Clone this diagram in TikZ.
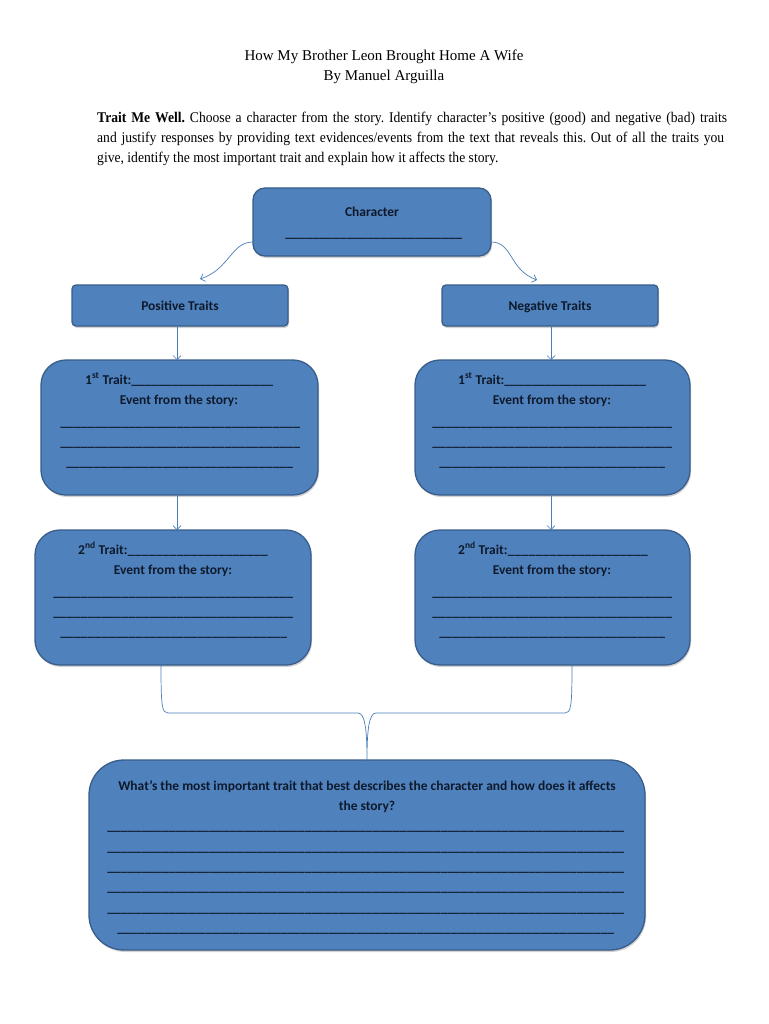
\documentclass[tikz,border=0pt]{standalone}
\usepackage{fontspec}
\setmainfont{Liberation Serif}
\newfontfamily\parafont{Liberation Serif}[FakeStretch=0.92]
\newfontfamily\boxfont{Carlito}
\usetikzlibrary{arrows.meta,shadows,calc}
\definecolor{boxblue}{HTML}{4F81BD}
\definecolor{boxedge}{HTML}{385D8A}
\definecolor{linkblue}{HTML}{4A7EBB}
\definecolor{ink}{HTML}{0E1A2B}
\newcommand\fillline[2]{\hbox to #1{#2\xleaders\hbox{\_}\hfill}}
\begin{document}
\frenchspacing
\begin{tikzpicture}[x=1pt,y=-1pt,
  box/.style={draw=boxedge, line width=1.3pt, fill=boxblue,
    drop shadow={shadow xshift=1pt,shadow yshift=-2pt,opacity=0.35},
    inner sep=0pt, outer sep=0pt},
  btxt/.style={font=\boxfont\bfseries\fontsize{13.5}{16}\selectfont, text=ink, inner sep=0pt},
  htxt/.style={font=\fontsize{15}{18}\selectfont, inner sep=0pt},
  ptxt/.style={font=\parafont\fontsize{14.8}{18}\selectfont, inner sep=0pt},
  conn/.style={draw=linkblue, line width=0.7pt},
  arr/.style={conn, -{Straight Barb[length=4pt,width=8pt]}}
]
\useasboundingbox[fill=white] (0,0) rectangle (768,1024);

% header
\node[htxt, anchor=base] (title) at (384,61) {How My Brother Leon Brought Home A Wife};
\node[htxt, anchor=base] (author) at (384,81) {By Manuel Arguilla};
\node[ptxt, anchor=base west] (p1) at (97,123) {\hbox to 630pt{\textbf{Trait Me Well.} Choose a character from the story. Identify character’s positive (good) and negative (bad) traits}};
\node[ptxt, anchor=base west] (p2) at (97,143) {\hbox to 627pt{and justify responses by providing text evidences/events from the text that reveals this. Out of all the traits you}};
\node[ptxt, anchor=base west] (p3) at (97,163) {give, identify the most important trait and explain how it affects the story.};

% boxes
\node[box, rounded corners=12pt, minimum width=238pt, minimum height=68pt] (cha) at (372,222) {};
\node[box, rounded corners=4pt, minimum width=216pt, minimum height=41pt] (pos) at (180,305.5) {};
\node[box, rounded corners=4pt, minimum width=216pt, minimum height=41pt] (neg) at (550,305.5) {};
\node[box, rounded corners=25pt, minimum width=277pt, minimum height=135pt] (t1l) at (179.5,427.5) {};
\node[box, rounded corners=25pt, minimum width=275pt, minimum height=135pt] (t1r) at (552.5,427.5) {};
\node[box, rounded corners=25pt, minimum width=276pt, minimum height=135pt] (t2l) at (173,597.5) {};
\node[box, rounded corners=25pt, minimum width=275pt, minimum height=135pt] (t2r) at (552.5,597.5) {};
\node[box, rounded corners=35pt, minimum width=556pt, minimum height=190pt] (bot) at (367,855) {};

% character box text
\node[btxt, anchor=base] (chat) at (372,217) {Character};
\node[btxt, anchor=base west] (chal) at (285,237) {\fillline{177pt}{}};
\node[btxt, anchor=base] (post) at (180,310) {Positive Traits};
\node[btxt, anchor=base] (negt) at (550,310) {Negative Traits};

% trait boxes text
\node[btxt, anchor=base west] (a1) at (85,384) {\fillline{188pt}{1\textsuperscript{st} Trait:}};
\node[btxt, anchor=base] (a2) at (179,404) {Event from the story:};
\node[btxt, anchor=base west] (a3) at (60,426) {\fillline{240pt}{}};
\node[btxt, anchor=base west] (a4) at (60,446) {\fillline{240pt}{}};
\node[btxt, anchor=base west] (a5) at (66,466) {\fillline{227pt}{}};

\node[btxt, anchor=base west] (b1) at (458,384) {\fillline{188pt}{1\textsuperscript{st} Trait:}};
\node[btxt, anchor=base] (b2) at (552,404) {Event from the story:};
\node[btxt, anchor=base west] (b3) at (432,426) {\fillline{240pt}{}};
\node[btxt, anchor=base west] (b4) at (432,446) {\fillline{240pt}{}};
\node[btxt, anchor=base west] (b5) at (439,466) {\fillline{226pt}{}};

\node[btxt, anchor=base west] (c1) at (78,554) {\fillline{190pt}{2\textsuperscript{nd} Trait:}};
\node[btxt, anchor=base] (c2) at (173,574) {Event from the story:};
\node[btxt, anchor=base west] (c3) at (53,596) {\fillline{240pt}{}};
\node[btxt, anchor=base west] (c4) at (53,616) {\fillline{240pt}{}};
\node[btxt, anchor=base west] (c5) at (60,636) {\fillline{227pt}{}};

\node[btxt, anchor=base west] (d1) at (458,554) {\fillline{190pt}{2\textsuperscript{nd} Trait:}};
\node[btxt, anchor=base] (d2) at (552,574) {Event from the story:};
\node[btxt, anchor=base west] (d3) at (432,596) {\fillline{240pt}{}};
\node[btxt, anchor=base west] (d4) at (432,616) {\fillline{240pt}{}};
\node[btxt, anchor=base west] (d5) at (439,636) {\fillline{226pt}{}};

% bottom box text
\node[btxt, anchor=base] (q1) at (367,790) {What’s the most important trait that best describes the character and how does it affects};
\node[btxt, anchor=base] (q2) at (367,810) {the story?};
\node[btxt, anchor=base west] (l1) at (107,830) {\fillline{517pt}{}};
\node[btxt, anchor=base west] (l2) at (107,851) {\fillline{517pt}{}};
\node[btxt, anchor=base west] (l3) at (107,871) {\fillline{517pt}{}};
\node[btxt, anchor=base west] (l4) at (107,891) {\fillline{517pt}{}};
\node[btxt, anchor=base west] (l5) at (107,912) {\fillline{517pt}{}};
\node[btxt, anchor=base west] (l6) at (117,932) {\fillline{497pt}{}};

% connectors
\draw[arr] ($(cha.south west)+(0,-14)$) .. controls +(-22,0) and +(30,-10) .. ($(pos.north)+(20,-6)$);
\draw[arr] ($(cha.south east)+(0,-14)$) .. controls +(22,0) and +(-28,-10) .. ($(neg.north)+(-13,-5)$);
\draw[arr] ([xshift=-3pt]pos.south) -- ([xshift=-3pt]pos.south |- t1l.north);
\draw[arr] ([xshift=-2.5pt]t1l.south) -- ([xshift=-2.5pt]t1l.south |- t2l.north);
\draw[arr] ([xshift=1pt]neg.south) -- ([xshift=1pt]neg.south |- t1r.north);
\draw[arr] ([xshift=-1.5pt]t1r.south) -- ([xshift=-1.5pt]t1r.south |- t2r.north);

\coordinate (bL) at ([xshift=-12pt]t2l.south);
\coordinate (bR) at ([xshift=19.5pt]t2r.south);
\draw[conn] (bL) .. controls ($(bL)+(0,42)$) and ($(bL)+(1,48)$) .. ($(bL)+(7,48)$)
  -- ($(bot.north)+(-9,-47)$) .. controls ($(bot.north)+(-2,-47)$) and ($(bot.north)+(0,-30)$) .. (bot.north)
  .. controls ($(bot.north)+(0,-30)$) and ($(bot.north)+(2,-47)$) .. ($(bot.north)+(9,-47)$)
  -- ($(bR)+(-7,48)$) .. controls ($(bR)+(-1,48)$) and ($(bR)+(0,42)$) .. (bR);
\end{tikzpicture}
\end{document}
